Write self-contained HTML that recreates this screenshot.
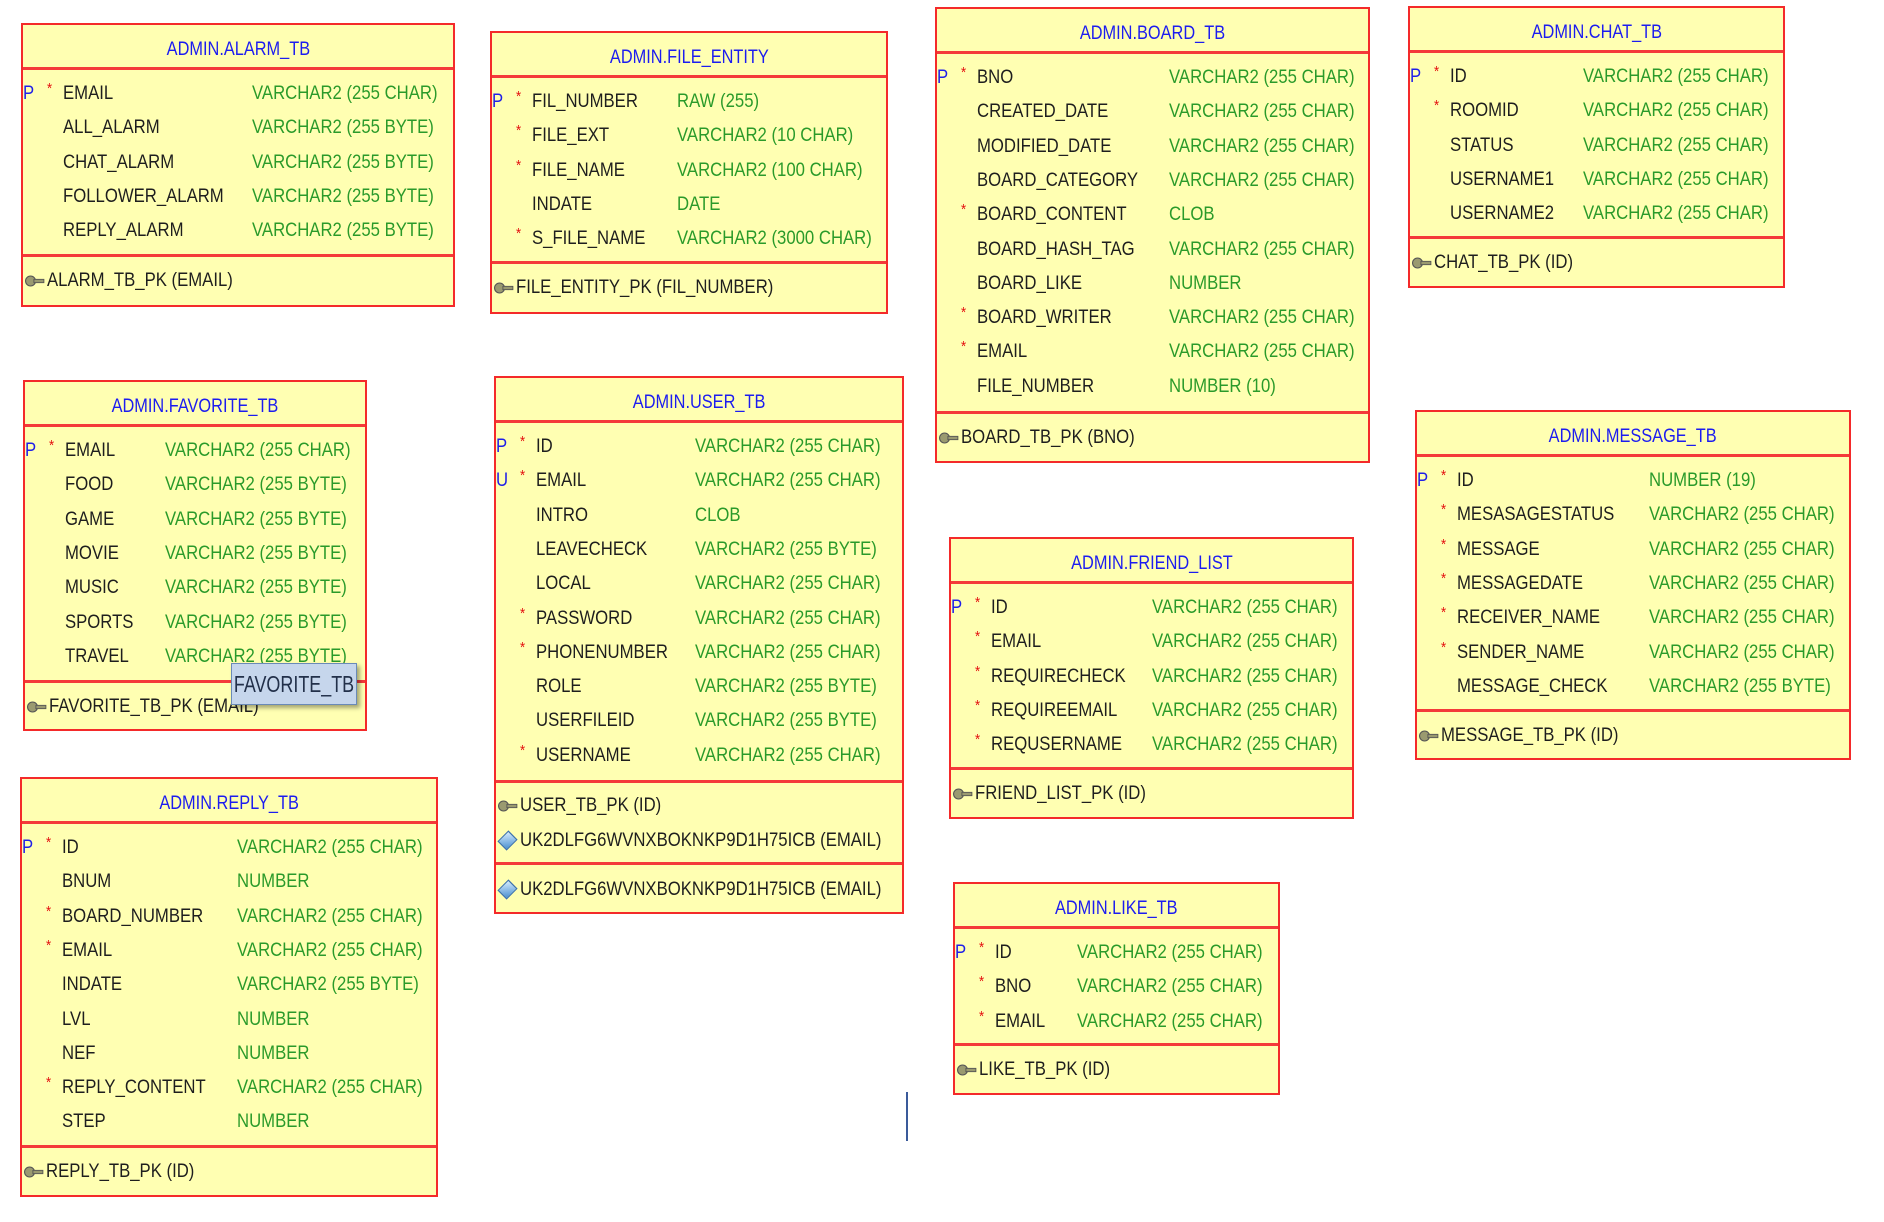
<!DOCTYPE html>
<html><head><meta charset="utf-8"><style>
html,body{margin:0;padding:0;background:#fff;}
body{width:1884px;height:1222px;position:relative;overflow:hidden;font-family:"Liberation Sans",sans-serif;font-size:19px;}
.tb{position:absolute;background:#ffffb2;border:2px solid #f42a2a;box-sizing:border-box;}
.hl{position:absolute;left:0;right:0;height:3px;background:#f43a3a;}
.ti{position:absolute;left:0;right:0;top:8px;height:34px;line-height:34px;text-align:center;color:#1c1cf0;}
.ti span{display:inline-block;transform:scaleX(.86);}
.r{position:absolute;left:0;right:0;height:34px;line-height:34px;white-space:nowrap;}
.r span{position:absolute;top:0;display:inline-block;transform:scaleX(.88);transform-origin:0 50%;}
.r .k{color:#2020e8;left:0px;}
.r .s{color:#e41010;left:24px;font-size:15px;top:-5px;}
.r .n{color:#1e1e1e;}
.r .y{color:#2a9a2a;}
.r .p{color:#1e1e1e;left:24px;}
.key{position:absolute;left:2px;top:10px;width:20px;height:14px;}
.dia{position:absolute;left:5px;top:10px;width:11px;height:11px;background:linear-gradient(135deg,#d6ecff,#4a90d0);transform:rotate(45deg) scaleY(1.2);border:1px solid #3a70b0;}
.tip{position:absolute;left:231px;top:663px;width:126px;height:42px;box-sizing:border-box;background:#c6d6ec;border:1px solid #6a8ab8;box-shadow:3px 3px 4px rgba(0,0,0,.35);color:#22304a;font-size:23px;line-height:40px;overflow:hidden;}
.tip span{position:absolute;left:50%;top:0;white-space:nowrap;transform:translateX(-50%) scaleX(.78);}
</style></head><body>

<!-- ALARM -->
<div class="tb" style="left:21px;top:23px;width:434px;height:284px;">
<div class="ti"><span>ADMIN.ALARM_TB</span></div>
<div class="hl" style="top:42px"></div>
<div class="r" style="top:52px"><span class="k">P</span><span class="s">*</span><span class="n" style="left:40px">EMAIL</span><span class="y" style="left:229px">VARCHAR2 (255 CHAR)</span></div>
<div class="r" style="top:86px"><span class="n" style="left:40px">ALL_ALARM</span><span class="y" style="left:229px">VARCHAR2 (255 BYTE)</span></div>
<div class="r" style="top:121px"><span class="n" style="left:40px">CHAT_ALARM</span><span class="y" style="left:229px">VARCHAR2 (255 BYTE)</span></div>
<div class="r" style="top:155px"><span class="n" style="left:40px">FOLLOWER_ALARM</span><span class="y" style="left:229px">VARCHAR2 (255 BYTE)</span></div>
<div class="r" style="top:189px"><span class="n" style="left:40px">REPLY_ALARM</span><span class="y" style="left:229px">VARCHAR2 (255 BYTE)</span></div>
<div class="hl" style="top:229px"></div>
<div class="r" style="top:239px"><svg class="key" viewBox="0 0 18 12"><circle cx="5" cy="6" r="4.5" fill="#9a9a70" stroke="#555" stroke-width="1"/><rect x="8" y="4.5" width="9" height="3" fill="#9a9a70" stroke="#555" stroke-width=".8"/></svg><span class="p">ALARM_TB_PK (EMAIL)</span></div>
</div>

<!-- FILE_ENTITY -->
<div class="tb" style="left:490px;top:31px;width:398px;height:283px;">
<div class="ti"><span>ADMIN.FILE_ENTITY</span></div>
<div class="hl" style="top:42px"></div>
<div class="r" style="top:52px"><span class="k">P</span><span class="s">*</span><span class="n" style="left:40px">FIL_NUMBER</span><span class="y" style="left:185px">RAW (255)</span></div>
<div class="r" style="top:86px"><span class="s">*</span><span class="n" style="left:40px">FILE_EXT</span><span class="y" style="left:185px">VARCHAR2 (10 CHAR)</span></div>
<div class="r" style="top:121px"><span class="s">*</span><span class="n" style="left:40px">FILE_NAME</span><span class="y" style="left:185px">VARCHAR2 (100 CHAR)</span></div>
<div class="r" style="top:155px"><span class="n" style="left:40px">INDATE</span><span class="y" style="left:185px">DATE</span></div>
<div class="r" style="top:189px"><span class="s">*</span><span class="n" style="left:40px">S_FILE_NAME</span><span class="y" style="left:185px">VARCHAR2 (3000 CHAR)</span></div>
<div class="hl" style="top:228px"></div>
<div class="r" style="top:238px"><svg class="key" viewBox="0 0 18 12"><circle cx="5" cy="6" r="4.5" fill="#9a9a70" stroke="#555" stroke-width="1"/><rect x="8" y="4.5" width="9" height="3" fill="#9a9a70" stroke="#555" stroke-width=".8"/></svg><span class="p">FILE_ENTITY_PK (FIL_NUMBER)</span></div>
</div>

<!-- BOARD -->
<div class="tb" style="left:935px;top:7px;width:435px;height:456px;">
<div class="ti"><span>ADMIN.BOARD_TB</span></div>
<div class="hl" style="top:42px"></div>
<div class="r" style="top:52px"><span class="k">P</span><span class="s">*</span><span class="n" style="left:40px">BNO</span><span class="y" style="left:232px">VARCHAR2 (255 CHAR)</span></div>
<div class="r" style="top:86px"><span class="n" style="left:40px">CREATED_DATE</span><span class="y" style="left:232px">VARCHAR2 (255 CHAR)</span></div>
<div class="r" style="top:121px"><span class="n" style="left:40px">MODIFIED_DATE</span><span class="y" style="left:232px">VARCHAR2 (255 CHAR)</span></div>
<div class="r" style="top:155px"><span class="n" style="left:40px">BOARD_CATEGORY</span><span class="y" style="left:232px">VARCHAR2 (255 CHAR)</span></div>
<div class="r" style="top:189px"><span class="s">*</span><span class="n" style="left:40px">BOARD_CONTENT</span><span class="y" style="left:232px">CLOB</span></div>
<div class="r" style="top:224px"><span class="n" style="left:40px">BOARD_HASH_TAG</span><span class="y" style="left:232px">VARCHAR2 (255 CHAR)</span></div>
<div class="r" style="top:258px"><span class="n" style="left:40px">BOARD_LIKE</span><span class="y" style="left:232px">NUMBER</span></div>
<div class="r" style="top:292px"><span class="s">*</span><span class="n" style="left:40px">BOARD_WRITER</span><span class="y" style="left:232px">VARCHAR2 (255 CHAR)</span></div>
<div class="r" style="top:326px"><span class="s">*</span><span class="n" style="left:40px">EMAIL</span><span class="y" style="left:232px">VARCHAR2 (255 CHAR)</span></div>
<div class="r" style="top:361px"><span class="n" style="left:40px">FILE_NUMBER</span><span class="y" style="left:232px">NUMBER (10)</span></div>
<div class="hl" style="top:402px"></div>
<div class="r" style="top:412px"><svg class="key" viewBox="0 0 18 12"><circle cx="5" cy="6" r="4.5" fill="#9a9a70" stroke="#555" stroke-width="1"/><rect x="8" y="4.5" width="9" height="3" fill="#9a9a70" stroke="#555" stroke-width=".8"/></svg><span class="p">BOARD_TB_PK (BNO)</span></div>
</div>

<!-- CHAT -->
<div class="tb" style="left:1408px;top:6px;width:377px;height:282px;">
<div class="ti"><span>ADMIN.CHAT_TB</span></div>
<div class="hl" style="top:42px"></div>
<div class="r" style="top:52px"><span class="k">P</span><span class="s">*</span><span class="n" style="left:40px">ID</span><span class="y" style="left:173px">VARCHAR2 (255 CHAR)</span></div>
<div class="r" style="top:86px"><span class="s">*</span><span class="n" style="left:40px">ROOMID</span><span class="y" style="left:173px">VARCHAR2 (255 CHAR)</span></div>
<div class="r" style="top:121px"><span class="n" style="left:40px">STATUS</span><span class="y" style="left:173px">VARCHAR2 (255 CHAR)</span></div>
<div class="r" style="top:155px"><span class="n" style="left:40px">USERNAME1</span><span class="y" style="left:173px">VARCHAR2 (255 CHAR)</span></div>
<div class="r" style="top:189px"><span class="n" style="left:40px">USERNAME2</span><span class="y" style="left:173px">VARCHAR2 (255 CHAR)</span></div>
<div class="hl" style="top:228px"></div>
<div class="r" style="top:238px"><svg class="key" viewBox="0 0 18 12"><circle cx="5" cy="6" r="4.5" fill="#9a9a70" stroke="#555" stroke-width="1"/><rect x="8" y="4.5" width="9" height="3" fill="#9a9a70" stroke="#555" stroke-width=".8"/></svg><span class="p">CHAT_TB_PK (ID)</span></div>
</div>

<!-- FAVORITE -->
<div class="tb" style="left:23px;top:380px;width:344px;height:351px;">
<div class="ti"><span>ADMIN.FAVORITE_TB</span></div>
<div class="hl" style="top:42px"></div>
<div class="r" style="top:52px"><span class="k">P</span><span class="s">*</span><span class="n" style="left:40px">EMAIL</span><span class="y" style="left:140px">VARCHAR2 (255 CHAR)</span></div>
<div class="r" style="top:86px"><span class="n" style="left:40px">FOOD</span><span class="y" style="left:140px">VARCHAR2 (255 BYTE)</span></div>
<div class="r" style="top:121px"><span class="n" style="left:40px">GAME</span><span class="y" style="left:140px">VARCHAR2 (255 BYTE)</span></div>
<div class="r" style="top:155px"><span class="n" style="left:40px">MOVIE</span><span class="y" style="left:140px">VARCHAR2 (255 BYTE)</span></div>
<div class="r" style="top:189px"><span class="n" style="left:40px">MUSIC</span><span class="y" style="left:140px">VARCHAR2 (255 BYTE)</span></div>
<div class="r" style="top:224px"><span class="n" style="left:40px">SPORTS</span><span class="y" style="left:140px">VARCHAR2 (255 BYTE)</span></div>
<div class="r" style="top:258px"><span class="n" style="left:40px">TRAVEL</span><span class="y" style="left:140px">VARCHAR2 (255 BYTE)</span></div>
<div class="hl" style="top:298px"></div>
<div class="r" style="top:308px"><svg class="key" viewBox="0 0 18 12"><circle cx="5" cy="6" r="4.5" fill="#9a9a70" stroke="#555" stroke-width="1"/><rect x="8" y="4.5" width="9" height="3" fill="#9a9a70" stroke="#555" stroke-width=".8"/></svg><span class="p">FAVORITE_TB_PK (EMAIL)</span></div>
</div>
<div class="tip"><span>FAVORITE_TB</span></div>

<!-- USER -->
<div class="tb" style="left:494px;top:376px;width:410px;height:538px;">
<div class="ti"><span>ADMIN.USER_TB</span></div>
<div class="hl" style="top:42px"></div>
<div class="r" style="top:52px"><span class="k">P</span><span class="s">*</span><span class="n" style="left:40px">ID</span><span class="y" style="left:199px">VARCHAR2 (255 CHAR)</span></div>
<div class="r" style="top:86px"><span class="k">U</span><span class="s">*</span><span class="n" style="left:40px">EMAIL</span><span class="y" style="left:199px">VARCHAR2 (255 CHAR)</span></div>
<div class="r" style="top:121px"><span class="n" style="left:40px">INTRO</span><span class="y" style="left:199px">CLOB</span></div>
<div class="r" style="top:155px"><span class="n" style="left:40px">LEAVECHECK</span><span class="y" style="left:199px">VARCHAR2 (255 BYTE)</span></div>
<div class="r" style="top:189px"><span class="n" style="left:40px">LOCAL</span><span class="y" style="left:199px">VARCHAR2 (255 CHAR)</span></div>
<div class="r" style="top:224px"><span class="s">*</span><span class="n" style="left:40px">PASSWORD</span><span class="y" style="left:199px">VARCHAR2 (255 CHAR)</span></div>
<div class="r" style="top:258px"><span class="s">*</span><span class="n" style="left:40px">PHONENUMBER</span><span class="y" style="left:199px">VARCHAR2 (255 CHAR)</span></div>
<div class="r" style="top:292px"><span class="n" style="left:40px">ROLE</span><span class="y" style="left:199px">VARCHAR2 (255 BYTE)</span></div>
<div class="r" style="top:326px"><span class="n" style="left:40px">USERFILEID</span><span class="y" style="left:199px">VARCHAR2 (255 BYTE)</span></div>
<div class="r" style="top:361px"><span class="s">*</span><span class="n" style="left:40px">USERNAME</span><span class="y" style="left:199px">VARCHAR2 (255 CHAR)</span></div>
<div class="hl" style="top:402px"></div>
<div class="r" style="top:411px"><svg class="key" viewBox="0 0 18 12"><circle cx="5" cy="6" r="4.5" fill="#9a9a70" stroke="#555" stroke-width="1"/><rect x="8" y="4.5" width="9" height="3" fill="#9a9a70" stroke="#555" stroke-width=".8"/></svg><span class="p">USER_TB_PK (ID)</span></div>
<div class="r" style="top:446px"><div class="dia"></div><span class="p">UK2DLFG6WVNXBOKNKP9D1H75ICB (EMAIL)</span></div>
<div class="hl" style="top:484px"></div>
<div class="r" style="top:495px"><div class="dia"></div><span class="p">UK2DLFG6WVNXBOKNKP9D1H75ICB (EMAIL)</span></div>
</div>

<!-- MESSAGE -->
<div class="tb" style="left:1415px;top:410px;width:436px;height:350px;">
<div class="ti"><span>ADMIN.MESSAGE_TB</span></div>
<div class="hl" style="top:42px"></div>
<div class="r" style="top:52px"><span class="k">P</span><span class="s">*</span><span class="n" style="left:40px">ID</span><span class="y" style="left:232px">NUMBER (19)</span></div>
<div class="r" style="top:86px"><span class="s">*</span><span class="n" style="left:40px">MESASAGESTATUS</span><span class="y" style="left:232px">VARCHAR2 (255 CHAR)</span></div>
<div class="r" style="top:121px"><span class="s">*</span><span class="n" style="left:40px">MESSAGE</span><span class="y" style="left:232px">VARCHAR2 (255 CHAR)</span></div>
<div class="r" style="top:155px"><span class="s">*</span><span class="n" style="left:40px">MESSAGEDATE</span><span class="y" style="left:232px">VARCHAR2 (255 CHAR)</span></div>
<div class="r" style="top:189px"><span class="s">*</span><span class="n" style="left:40px">RECEIVER_NAME</span><span class="y" style="left:232px">VARCHAR2 (255 CHAR)</span></div>
<div class="r" style="top:224px"><span class="s">*</span><span class="n" style="left:40px">SENDER_NAME</span><span class="y" style="left:232px">VARCHAR2 (255 CHAR)</span></div>
<div class="r" style="top:258px"><span class="n" style="left:40px">MESSAGE_CHECK</span><span class="y" style="left:232px">VARCHAR2 (255 BYTE)</span></div>
<div class="hl" style="top:297px"></div>
<div class="r" style="top:307px"><svg class="key" viewBox="0 0 18 12"><circle cx="5" cy="6" r="4.5" fill="#9a9a70" stroke="#555" stroke-width="1"/><rect x="8" y="4.5" width="9" height="3" fill="#9a9a70" stroke="#555" stroke-width=".8"/></svg><span class="p">MESSAGE_TB_PK (ID)</span></div>
</div>

<!-- FRIEND -->
<div class="tb" style="left:949px;top:537px;width:405px;height:282px;">
<div class="ti"><span>ADMIN.FRIEND_LIST</span></div>
<div class="hl" style="top:42px"></div>
<div class="r" style="top:52px"><span class="k">P</span><span class="s">*</span><span class="n" style="left:40px">ID</span><span class="y" style="left:201px">VARCHAR2 (255 CHAR)</span></div>
<div class="r" style="top:86px"><span class="s">*</span><span class="n" style="left:40px">EMAIL</span><span class="y" style="left:201px">VARCHAR2 (255 CHAR)</span></div>
<div class="r" style="top:121px"><span class="s">*</span><span class="n" style="left:40px">REQUIRECHECK</span><span class="y" style="left:201px">VARCHAR2 (255 CHAR)</span></div>
<div class="r" style="top:155px"><span class="s">*</span><span class="n" style="left:40px">REQUIREEMAIL</span><span class="y" style="left:201px">VARCHAR2 (255 CHAR)</span></div>
<div class="r" style="top:189px"><span class="s">*</span><span class="n" style="left:40px">REQUSERNAME</span><span class="y" style="left:201px">VARCHAR2 (255 CHAR)</span></div>
<div class="hl" style="top:228px"></div>
<div class="r" style="top:238px"><svg class="key" viewBox="0 0 18 12"><circle cx="5" cy="6" r="4.5" fill="#9a9a70" stroke="#555" stroke-width="1"/><rect x="8" y="4.5" width="9" height="3" fill="#9a9a70" stroke="#555" stroke-width=".8"/></svg><span class="p">FRIEND_LIST_PK (ID)</span></div>
</div>

<!-- REPLY -->
<div class="tb" style="left:20px;top:777px;width:418px;height:420px;">
<div class="ti"><span>ADMIN.REPLY_TB</span></div>
<div class="hl" style="top:42px"></div>
<div class="r" style="top:52px"><span class="k">P</span><span class="s">*</span><span class="n" style="left:40px">ID</span><span class="y" style="left:215px">VARCHAR2 (255 CHAR)</span></div>
<div class="r" style="top:86px"><span class="n" style="left:40px">BNUM</span><span class="y" style="left:215px">NUMBER</span></div>
<div class="r" style="top:121px"><span class="s">*</span><span class="n" style="left:40px">BOARD_NUMBER</span><span class="y" style="left:215px">VARCHAR2 (255 CHAR)</span></div>
<div class="r" style="top:155px"><span class="s">*</span><span class="n" style="left:40px">EMAIL</span><span class="y" style="left:215px">VARCHAR2 (255 CHAR)</span></div>
<div class="r" style="top:189px"><span class="n" style="left:40px">INDATE</span><span class="y" style="left:215px">VARCHAR2 (255 BYTE)</span></div>
<div class="r" style="top:224px"><span class="n" style="left:40px">LVL</span><span class="y" style="left:215px">NUMBER</span></div>
<div class="r" style="top:258px"><span class="n" style="left:40px">NEF</span><span class="y" style="left:215px">NUMBER</span></div>
<div class="r" style="top:292px"><span class="s">*</span><span class="n" style="left:40px">REPLY_CONTENT</span><span class="y" style="left:215px">VARCHAR2 (255 CHAR)</span></div>
<div class="r" style="top:326px"><span class="n" style="left:40px">STEP</span><span class="y" style="left:215px">NUMBER</span></div>
<div class="hl" style="top:366px"></div>
<div class="r" style="top:376px"><svg class="key" viewBox="0 0 18 12"><circle cx="5" cy="6" r="4.5" fill="#9a9a70" stroke="#555" stroke-width="1"/><rect x="8" y="4.5" width="9" height="3" fill="#9a9a70" stroke="#555" stroke-width=".8"/></svg><span class="p">REPLY_TB_PK (ID)</span></div>
</div>

<!-- LIKE -->
<div class="tb" style="left:953px;top:882px;width:327px;height:213px;">
<div class="ti"><span>ADMIN.LIKE_TB</span></div>
<div class="hl" style="top:42px"></div>
<div class="r" style="top:52px"><span class="k">P</span><span class="s">*</span><span class="n" style="left:40px">ID</span><span class="y" style="left:122px">VARCHAR2 (255 CHAR)</span></div>
<div class="r" style="top:86px"><span class="s">*</span><span class="n" style="left:40px">BNO</span><span class="y" style="left:122px">VARCHAR2 (255 CHAR)</span></div>
<div class="r" style="top:121px"><span class="s">*</span><span class="n" style="left:40px">EMAIL</span><span class="y" style="left:122px">VARCHAR2 (255 CHAR)</span></div>
<div class="hl" style="top:159px"></div>
<div class="r" style="top:169px"><svg class="key" viewBox="0 0 18 12"><circle cx="5" cy="6" r="4.5" fill="#9a9a70" stroke="#555" stroke-width="1"/><rect x="8" y="4.5" width="9" height="3" fill="#9a9a70" stroke="#555" stroke-width=".8"/></svg><span class="p">LIKE_TB_PK (ID)</span></div>
</div>

<div style="position:absolute;left:906px;top:1092px;width:2px;height:49px;background:#3a5a9a;"></div>

</body></html>
